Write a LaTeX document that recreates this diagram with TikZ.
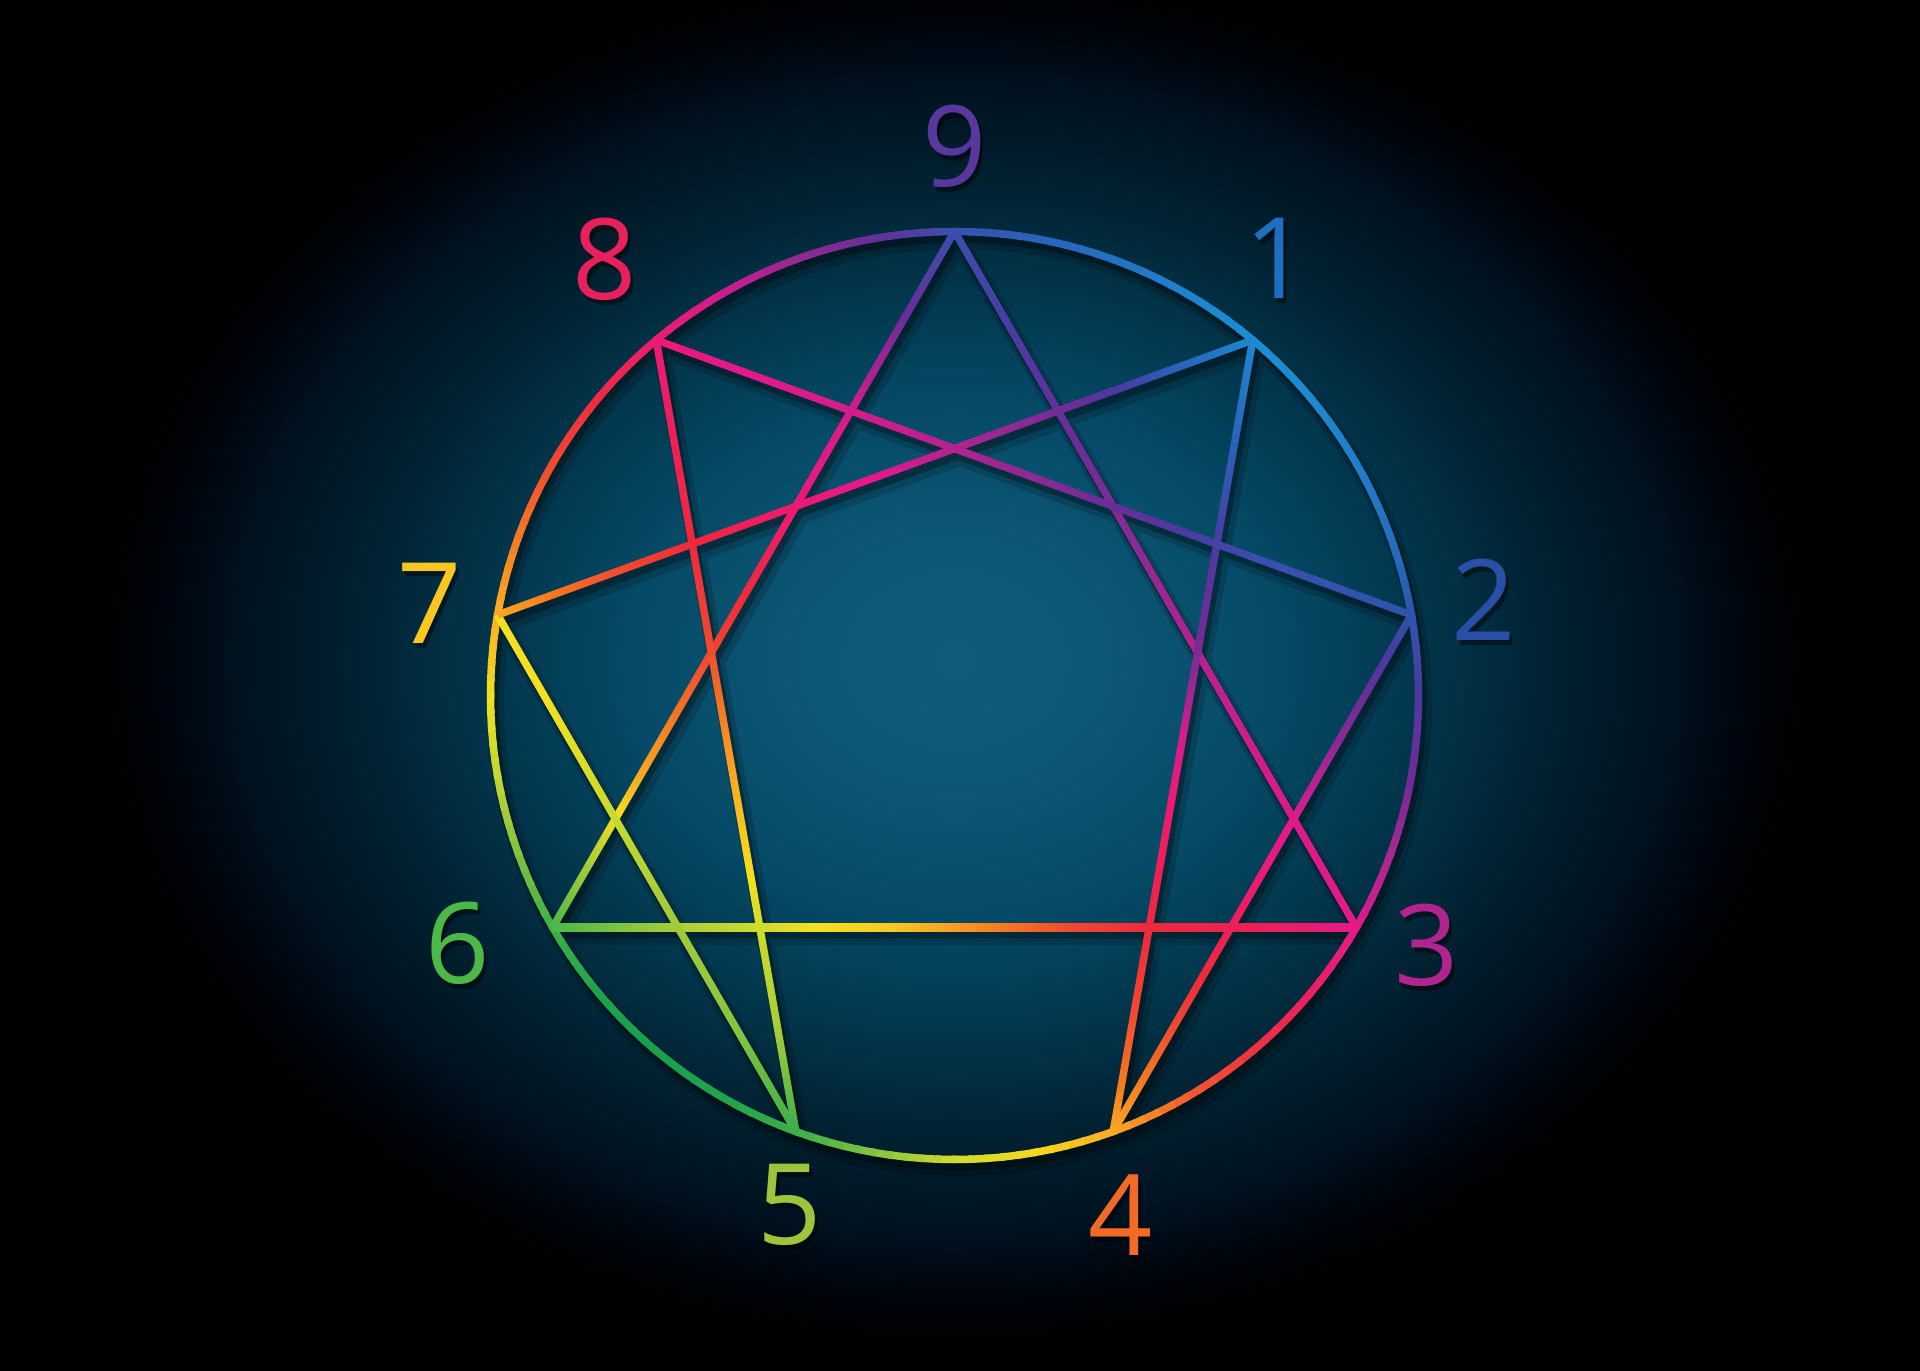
\documentclass[tikz,border=0pt]{standalone}
\usepackage{fontspec}
\setmainfont{Open Sans}
% ring keyframe colours (every 10 degrees, clockwise from the top)
\definecolor{k0}{HTML}{3A4FAE}\definecolor{k1}{HTML}{2C62B8}\definecolor{k2}{HTML}{2370C2}
\definecolor{k3}{HTML}{1E82CC}\definecolor{k4}{HTML}{1B8ED4}\definecolor{k5}{HTML}{1D88D0}
\definecolor{k6}{HTML}{1F7ECB}\definecolor{k7}{HTML}{2570BF}\definecolor{k8}{HTML}{2E55AB}
\definecolor{k9}{HTML}{4A3AA0}\definecolor{k10}{HTML}{6A2D96}\definecolor{k11}{HTML}{A52790}
\definecolor{k12}{HTML}{E01A8A}\definecolor{k13}{HTML}{EC1F60}\definecolor{k14}{HTML}{EE3040}
\definecolor{k15}{HTML}{F25A2C}\definecolor{k16}{HTML}{F8A824}\definecolor{k17}{HTML}{F5D820}
\definecolor{k18}{HTML}{D0DC2A}\definecolor{k19}{HTML}{86C440}\definecolor{k20}{HTML}{3CAE4A}
\definecolor{k21}{HTML}{22A24C}\definecolor{k22}{HTML}{17A04E}\definecolor{k23}{HTML}{1EA24C}
\definecolor{k24}{HTML}{3CAE48}\definecolor{k25}{HTML}{7CC142}\definecolor{k26}{HTML}{C0D632}
\definecolor{k27}{HTML}{F0E020}\definecolor{k28}{HTML}{F8B024}\definecolor{k29}{HTML}{F47A22}
\definecolor{k30}{HTML}{F04A30}\definecolor{k31}{HTML}{EE2A40}\definecolor{k32}{HTML}{EC1C6C}
\definecolor{k33}{HTML}{D01C8C}\definecolor{k34}{HTML}{962892}\definecolor{k35}{HTML}{643096}
% palette for the chords
\definecolor{Bl}{HTML}{3A4FAE}\definecolor{Bl2}{HTML}{2A62B8}\definecolor{Lb}{HTML}{1E88D0}
\definecolor{B2}{HTML}{2E55AB}\definecolor{In}{HTML}{4A3AA0}\definecolor{Pu}{HTML}{6A2D96}
\definecolor{Pm}{HTML}{8A2A94}\definecolor{Mg}{HTML}{B4228F}\definecolor{Mp}{HTML}{D41C8C}
\definecolor{Pk}{HTML}{E4198A}\definecolor{Pr}{HTML}{EC1A74}\definecolor{Rp}{HTML}{EC1F58}
\definecolor{Rd}{HTML}{EE2A3C}\definecolor{Ro}{HTML}{F04A30}\definecolor{Or}{HTML}{F47A22}
\definecolor{Oy}{HTML}{F8A824}\definecolor{Yo}{HTML}{F8C820}\definecolor{Ye}{HTML}{F5DF20}
\definecolor{Ly}{HTML}{D0DC2A}\definecolor{Yg}{HTML}{A8CC38}\definecolor{Gy}{HTML}{86C440}
\definecolor{Gn}{HTML}{4CB848}\definecolor{Gd}{HTML}{3CAE4A}
% label colours
\definecolor{L9}{HTML}{58389C}\definecolor{L1}{HTML}{1F6FC0}\definecolor{L2}{HTML}{2A4FA6}
\definecolor{L3}{HTML}{B0248E}\definecolor{L4}{HTML}{F26A26}\definecolor{L5}{HTML}{9CC43C}
\definecolor{L6}{HTML}{4CB848}\definecolor{L7}{HTML}{F9C622}\definecolor{L8}{HTML}{E8205C}
% background
\definecolor{bg0}{HTML}{0F5B7A}\definecolor{bg1}{HTML}{0D5876}\definecolor{bg2}{HTML}{054A66}
\definecolor{bg3}{HTML}{02364C}\definecolor{bg4}{HTML}{011D2C}\definecolor{bg5}{HTML}{001220}
\definecolor{bg6}{HTML}{00060F}
\pgfdeclareradialshading{bgglow}{\pgfpoint{0bp}{0bp}}{color(0bp)=(bg0); color(4bp)=(bg1); color(9.5bp)=(bg2); color(13.7bp)=(bg3); color(18.4bp)=(bg4); color(21bp)=(bg5); color(23bp)=(bg6); color(25bp)=(black); color(50bp)=(black)}
% chord shadings (25bp = start point, 75bp = end point)
\pgfdeclarehorizontalshading{shA}{100bp}{color(0bp)=(Bl); color(25bp)=(Bl); color(32.5bp)=(In); color(40bp)=(Pu); color(47.5bp)=(Pm); color(55bp)=(Mg); color(64bp)=(Mp); color(75bp)=(Pk); color(100bp)=(Pk)}
\pgfdeclarehorizontalshading{shB}{100bp}{color(0bp)=(Bl); color(25bp)=(Bl); color(31bp)=(Pu); color(38bp)=(Mp); color(45bp)=(Pr); color(51bp)=(Rd); color(56bp)=(Ro); color(60bp)=(Or); color(64bp)=(Oy); color(67bp)=(Ye); color(70.5bp)=(Yg); color(75bp)=(Gn); color(100bp)=(Gn)}
\pgfdeclarehorizontalshading{shC}{100bp}{color(0bp)=(Gn); color(25bp)=(Gn); color(32.5bp)=(Yg); color(38bp)=(Ly); color(41.5bp)=(Ye); color(46bp)=(Yo); color(49bp)=(Oy); color(53bp)=(Or); color(57bp)=(Ro); color(62bp)=(Rd); color(69bp)=(Rp); color(75bp)=(Pk); color(100bp)=(Pk)}
\pgfdeclarehorizontalshading{shD}{100bp}{color(0bp)=(Lb); color(25bp)=(Lb); color(31.5bp)=(Bl2); color(38bp)=(In); color(42.5bp)=(Pu); color(46bp)=(Pm); color(50bp)=(Mp); color(54bp)=(Pr); color(58bp)=(Rp); color(62.5bp)=(Rd); color(67.5bp)=(Ro); color(72bp)=(Or); color(75bp)=(Oy); color(100bp)=(Oy)}
\pgfdeclarehorizontalshading{shE}{100bp}{color(0bp)=(Oy); color(25bp)=(Oy); color(30bp)=(Or); color(35bp)=(Ro); color(40bp)=(Rd); color(44.5bp)=(Rp); color(50bp)=(Pr); color(55bp)=(Pk); color(59bp)=(Mg); color(63bp)=(Pm); color(67bp)=(Pu); color(71bp)=(In); color(75bp)=(B2); color(100bp)=(B2)}
\pgfdeclarehorizontalshading{shF}{100bp}{color(0bp)=(B2); color(25bp)=(B2); color(35bp)=(Bl); color(40bp)=(In); color(45bp)=(Pu); color(50bp)=(Pm); color(55bp)=(Mg); color(62.5bp)=(Mp); color(70bp)=(Pk); color(75bp)=(Pr); color(100bp)=(Pr)}
\pgfdeclarehorizontalshading{shG}{100bp}{color(0bp)=(Pr); color(25bp)=(Pr); color(31bp)=(Rp); color(38bp)=(Rd); color(44.5bp)=(Ro); color(48.5bp)=(Or); color(52.5bp)=(Oy); color(56bp)=(Yo); color(59bp)=(Ye); color(62bp)=(Ly); color(68.5bp)=(Yg); color(75bp)=(Gd); color(100bp)=(Gd)}
\pgfdeclarehorizontalshading{shH}{100bp}{color(0bp)=(Gd); color(25bp)=(Gd); color(35bp)=(Gy); color(47.5bp)=(Yg); color(57.5bp)=(Ly); color(67.5bp)=(Ye); color(75bp)=(Ye); color(100bp)=(Ye)}
\pgfdeclarehorizontalshading{shI}{100bp}{color(0bp)=(Oy); color(25bp)=(Oy); color(28.5bp)=(Or); color(33bp)=(Ro); color(38bp)=(Rd); color(41.5bp)=(Rp); color(45bp)=(Pr); color(50bp)=(Pk); color(55bp)=(Mg); color(60bp)=(Pm); color(63bp)=(Pu); color(66bp)=(In); color(70bp)=(Bl2); color(75bp)=(Lb); color(100bp)=(Lb)}
% a chord from node #1 to node #2, painted with shading #3
\newcommand\gradchord[3]{%
  \pgfpointdiff{\pgfpointanchor{#1}{center}}{\pgfpointanchor{#2}{center}}%
  \pgfgetlastxy\chdx\chdy
  \pgfpointanchor{#1}{center}\pgfgetlastxy\chax\chay
  \pgfmathsetmacro\chlen{veclen(\chdx,\chdy)}%
  \pgfmathsetmacro\chang{atan2(\chdy,\chdx)}%
  \begin{scope}[transform canvas={shift={(\chax,\chay)},rotate=\chang}]
    \shade[shading=#3] (0pt,-0.0375cm) rectangle (\chlen pt,0.0375cm);
  \end{scope}}
\begin{document}
\begin{tikzpicture}[x=0.01cm,y=-0.01cm,
  ringline/.style={line width=0.075cm},
  shadowline/.style={draw=black,line width=#1,line join=round},
  lbl/.style={font=\fontsize{32}{32}\selectfont,inner sep=0pt}]
\def\cx{954.5}\def\cy{695.5}\def\R{464}
% background
\fill[black] (0,0) rectangle (1920,1371);
\useasboundingbox (0,0) rectangle (1920,1371);
\shade[shading=bgglow] (105,-20) rectangle (1805,1340);
% points of the figure
\coordinate (c) at (\cx,\cy);
\foreach \k in {1,...,9}{
  \coordinate (p\k) at ({\cx+\R*sin(40*\k)},{\cy-\R*cos(40*\k)});
}
% soft drop shadow
\begin{scope}[transparency group,opacity=0.16,transform canvas={shift={(5,9)}}]
  \draw[shadowline=0.17cm] (c) circle[radius=\R];
  \draw[shadowline=0.17cm] (p9)--(p3)--(p6)--cycle;
  \draw[shadowline=0.17cm] (p1)--(p4)--(p2)--(p8)--(p5)--(p7)--cycle;
\end{scope}
\begin{scope}[transparency group,opacity=0.3,transform canvas={shift={(3,6)}}]
  \draw[shadowline=0.1cm] (c) circle[radius=\R];
  \draw[shadowline=0.1cm] (p9)--(p3)--(p6)--cycle;
  \draw[shadowline=0.1cm] (p1)--(p4)--(p2)--(p8)--(p5)--(p7)--cycle;
\end{scope}
% rainbow ring
\foreach \i in {0,...,35}{
  \pgfmathtruncatemacro\j{mod(\i+1,36)}
  \foreach \s in {0,...,4}{
    \pgfmathsetmacro\pa{10*\i+2*\s-0.3}
    \pgfmathsetmacro\sa{\pa-90}
    \pgfmathsetmacro\ea{\pa-90+2.6}
    \pgfmathtruncatemacro\pp{90-20*\s}
    \draw[ringline,draw=k\i!\pp!k\j] ({\cx+\R*sin(\pa)},{\cy-\R*cos(\pa)}) arc[start angle=\sa,end angle=\ea,radius=\R];
  }
}
% chords
\gradchord{p9}{p3}{shA}
\gradchord{p9}{p6}{shB}
\gradchord{p6}{p3}{shC}
\gradchord{p1}{p4}{shD}
\gradchord{p4}{p2}{shE}
\gradchord{p2}{p8}{shF}
\gradchord{p8}{p5}{shG}
\gradchord{p5}{p7}{shH}
\gradchord{p7}{p1}{shI}
% labels
\foreach \k/\x/\y/\col in {9/955/146/L9,1/1277/258/L1,2/1484/600/L2,3/1427/945/L3,4/1121/1215/L4,5/790/1205/L5,6/458/943/L6,7/430/603/L7,8/605/259/L8}{
  \node[lbl,text=black,opacity=0.45] (s\k) at (\x+3,\y+5) {\k};
  \node[lbl,text=\col] (n\k) at (\x,\y) {\k};
}
\end{tikzpicture}
\end{document}
